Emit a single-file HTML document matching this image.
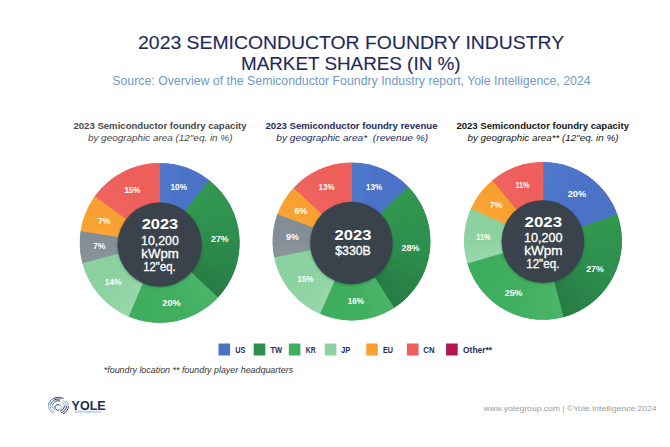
<!DOCTYPE html>
<html lang="en"><head><meta charset="utf-8"><title>2023 Semiconductor Foundry Industry Market Shares</title>
<style>html,body{margin:0;padding:0;background:#fff}body{width:670px;height:447px;overflow:hidden}svg{display:block}</style>
</head><body>
<svg width="670" height="447" viewBox="0 0 670 447" font-family="'Liberation Sans', sans-serif">
<defs><filter id="sh" x="-20%" y="-20%" width="140%" height="140%"><feGaussianBlur stdDeviation="0.9"/></filter></defs>
<rect width="670" height="447" fill="#fff"/>
<text x="138.1" y="49.3" font-size="18" fill="#1f2a5a" font-weight="normal" font-style="normal" textLength="426.1" lengthAdjust="spacingAndGlyphs" stroke="#1f2a5a" stroke-width="0.12">2023 SEMICONDUCTOR FOUNDRY INDUSTRY</text>
<text x="241" y="69.8" font-size="18" fill="#1f2a5a" font-weight="normal" font-style="normal" textLength="219.5" lengthAdjust="spacingAndGlyphs" stroke="#1f2a5a" stroke-width="0.12">MARKET SHARES (IN %)</text>
<text x="112.3" y="85" font-size="12" fill="#7099c5" font-weight="normal" font-style="normal" textLength="478.3" lengthAdjust="spacingAndGlyphs" >Source: Overview of the Semiconductor Foundry Industry report, Yole Intelligence, 2024</text>
<text x="73.4" y="129.4" font-size="9.4" fill="#484848" font-weight="bold" font-style="normal" textLength="173.2" lengthAdjust="spacingAndGlyphs" >2023 Semiconductor foundry capacity</text>
<text x="87.9" y="140.6" font-size="9.4" fill="#484848" font-weight="normal" font-style="italic" textLength="144.6" lengthAdjust="spacingAndGlyphs" >by geographic area (12"eq. in %)</text>
<text x="265.5" y="129.4" font-size="9.4" fill="#1f2a5a" font-weight="bold" font-style="normal" textLength="172.0" lengthAdjust="spacingAndGlyphs" >2023 Semiconductor foundry revenue</text>
<text x="276.3" y="140.6" font-size="9.4" fill="#1f2a5a" font-weight="normal" font-style="italic" textLength="151.9" lengthAdjust="spacingAndGlyphs" xml:space="preserve">by geographic area*  (revenue %)</text>
<text x="456.4" y="129.4" font-size="9.4" fill="#151515" font-weight="bold" font-style="normal" textLength="172.6" lengthAdjust="spacingAndGlyphs" >2023 Semiconductor foundry capacity</text>
<text x="467.5" y="140.6" font-size="9.4" fill="#151515" font-weight="normal" font-style="italic" textLength="151.0" lengthAdjust="spacingAndGlyphs" >by geographic area** (12"eq. in %)</text>
<path d="M159.70,242.90L159.70,163.20A79.70,79.70 0 0 1 209.21,180.44Z" fill="#4a73c8" stroke="#4a73c8" stroke-width="0.4"/>
<path d="M159.70,242.90L159.70,163.20A79.70,79.70 0 0 1 166.46,163.49Z" fill="#5078ca"/>
<path d="M159.70,242.90L165.63,163.42A79.70,79.70 0 0 1 172.35,164.21Z" fill="#4f77c9"/>
<path d="M159.70,242.90L171.53,164.08A79.70,79.70 0 0 1 178.17,165.37Z" fill="#4d76c9"/>
<path d="M159.70,242.90L177.36,165.18A79.70,79.70 0 0 1 183.89,166.96Z" fill="#4c74c8"/>
<path d="M159.70,242.90L183.09,166.71A79.70,79.70 0 0 1 189.47,168.97Z" fill="#4a73c8"/>
<path d="M159.70,242.90L188.69,168.66A79.70,79.70 0 0 1 194.89,171.39Z" fill="#4a73c8"/>
<path d="M159.70,242.90L194.14,171.02A79.70,79.70 0 0 1 200.11,174.20Z" fill="#4a73c8"/>
<path d="M159.70,242.90L199.39,173.79A79.70,79.70 0 0 1 205.11,177.40Z" fill="#4a72c7"/>
<path d="M159.70,242.90L204.42,176.93A79.70,79.70 0 0 1 209.21,180.44Z" fill="#4a72c7"/>
<path d="M159.70,242.90L209.21,180.44A79.70,79.70 0 0 1 217.80,297.46Z" fill="#2d8e4e" stroke="#2d8e4e" stroke-width="0.4"/>
<path d="M159.70,242.90L209.21,180.44A79.70,79.70 0 0 1 214.18,184.73Z" fill="#32974f"/>
<path d="M159.70,242.90L213.57,184.16A79.70,79.70 0 0 1 218.22,188.79Z" fill="#31964f"/>
<path d="M159.70,242.90L217.65,188.18A79.70,79.70 0 0 1 221.96,193.14Z" fill="#31954f"/>
<path d="M159.70,242.90L221.43,192.49A79.70,79.70 0 0 1 225.37,197.74Z" fill="#30944f"/>
<path d="M159.70,242.90L224.90,197.06A79.70,79.70 0 0 1 228.45,202.58Z" fill="#30934f"/>
<path d="M159.70,242.90L228.02,201.86A79.70,79.70 0 0 1 231.17,207.63Z" fill="#30934f"/>
<path d="M159.70,242.90L230.80,206.88A79.70,79.70 0 0 1 233.52,212.85Z" fill="#2f924e"/>
<path d="M159.70,242.90L233.20,212.08A79.70,79.70 0 0 1 235.49,218.24Z" fill="#2f914e"/>
<path d="M159.70,242.90L235.23,217.44A79.70,79.70 0 0 1 237.06,223.75Z" fill="#2e904e"/>
<path d="M159.70,242.90L236.86,222.94A79.70,79.70 0 0 1 238.24,229.36Z" fill="#2e904e"/>
<path d="M159.70,242.90L238.10,228.54A79.70,79.70 0 0 1 239.01,235.04Z" fill="#2d8f4e"/>
<path d="M159.70,242.90L238.92,234.21A79.70,79.70 0 0 1 239.37,240.76Z" fill="#2d8e4e"/>
<path d="M159.70,242.90L239.34,239.93A79.70,79.70 0 0 1 239.32,246.49Z" fill="#2d8c4d"/>
<path d="M159.70,242.90L239.35,245.66A79.70,79.70 0 0 1 238.85,252.20Z" fill="#2c8b4c"/>
<path d="M159.70,242.90L238.95,251.38A79.70,79.70 0 0 1 237.98,257.87Z" fill="#2c894b"/>
<path d="M159.70,242.90L238.13,257.05A79.70,79.70 0 0 1 236.70,263.46Z" fill="#2b884b"/>
<path d="M159.70,242.90L236.91,262.65A79.70,79.70 0 0 1 235.03,268.94Z" fill="#2b864a"/>
<path d="M159.70,242.90L235.29,268.15A79.70,79.70 0 0 1 232.96,274.29Z" fill="#2a8549"/>
<path d="M159.70,242.90L233.28,273.52A79.70,79.70 0 0 1 230.51,279.47Z" fill="#2a8348"/>
<path d="M159.70,242.90L230.89,278.73A79.70,79.70 0 0 1 227.70,284.47Z" fill="#2a8147"/>
<path d="M159.70,242.90L228.13,283.75A79.70,79.70 0 0 1 224.54,289.25Z" fill="#298046"/>
<path d="M159.70,242.90L225.02,288.56A79.70,79.70 0 0 1 221.04,293.79Z" fill="#297e45"/>
<path d="M159.70,242.90L221.57,293.14A79.70,79.70 0 0 1 217.80,297.46Z" fill="#287d44"/>
<path d="M159.70,242.90L217.80,297.46A79.70,79.70 0 0 1 128.56,316.26Z" fill="#3faf5f" stroke="#3faf5f" stroke-width="0.4"/>
<path d="M159.70,242.90L217.80,297.46A79.70,79.70 0 0 1 213.13,302.04Z" fill="#4ab468"/>
<path d="M159.70,242.90L213.74,301.48A79.70,79.70 0 0 1 208.76,305.71Z" fill="#49b367"/>
<path d="M159.70,242.90L209.41,305.20A79.70,79.70 0 0 1 204.13,309.07Z" fill="#47b366"/>
<path d="M159.70,242.90L204.82,308.60A79.70,79.70 0 0 1 199.28,312.08Z" fill="#46b265"/>
<path d="M159.70,242.90L200.00,311.66A79.70,79.70 0 0 1 194.23,314.73Z" fill="#45b164"/>
<path d="M159.70,242.90L194.98,314.37A79.70,79.70 0 0 1 188.99,317.02Z" fill="#43b163"/>
<path d="M159.70,242.90L189.77,316.71A79.70,79.70 0 0 1 183.61,318.93Z" fill="#42b061"/>
<path d="M159.70,242.90L184.41,318.67A79.70,79.70 0 0 1 178.11,320.45Z" fill="#40b060"/>
<path d="M159.70,242.90L178.92,320.25A79.70,79.70 0 0 1 172.51,321.56Z" fill="#3faf5f"/>
<path d="M159.70,242.90L173.33,321.43A79.70,79.70 0 0 1 166.84,322.28Z" fill="#3faf5f"/>
<path d="M159.70,242.90L167.67,322.20A79.70,79.70 0 0 1 161.14,322.59Z" fill="#3faf5f"/>
<path d="M159.70,242.90L161.97,322.57A79.70,79.70 0 0 1 155.43,322.49Z" fill="#3fae5f"/>
<path d="M159.70,242.90L156.26,322.53A79.70,79.70 0 0 1 149.74,321.98Z" fill="#3fae5f"/>
<path d="M159.70,242.90L150.57,322.08A79.70,79.70 0 0 1 144.11,321.06Z" fill="#3eae5e"/>
<path d="M159.70,242.90L144.93,321.22A79.70,79.70 0 0 1 138.55,319.74Z" fill="#3eae5e"/>
<path d="M159.70,242.90L139.36,319.96A79.70,79.70 0 0 1 133.10,318.03Z" fill="#3ead5e"/>
<path d="M159.70,242.90L133.89,318.31A79.70,79.70 0 0 1 128.56,316.26Z" fill="#3ead5e"/>
<path d="M159.70,242.90L128.56,316.26A79.70,79.70 0 0 1 82.50,262.72Z" fill="#8dd3a1" stroke="#8dd3a1" stroke-width="0.4"/>
<path d="M159.70,242.90L128.56,316.26A79.70,79.70 0 0 1 122.72,313.50Z" fill="#97d7a9"/>
<path d="M159.70,242.90L123.46,313.88A79.70,79.70 0 0 1 117.83,310.72Z" fill="#95d6a8"/>
<path d="M159.70,242.90L118.54,311.15A79.70,79.70 0 0 1 113.15,307.59Z" fill="#94d5a7"/>
<path d="M159.70,242.90L113.83,308.08A79.70,79.70 0 0 1 108.70,304.15Z" fill="#92d5a5"/>
<path d="M159.70,242.90L109.34,304.68A79.70,79.70 0 0 1 104.51,300.39Z" fill="#90d4a4"/>
<path d="M159.70,242.90L105.11,300.97A79.70,79.70 0 0 1 100.59,296.36Z" fill="#8fd4a2"/>
<path d="M159.70,242.90L101.15,296.97A79.70,79.70 0 0 1 96.96,292.05Z" fill="#8dd3a1"/>
<path d="M159.70,242.90L97.48,292.71A79.70,79.70 0 0 1 93.65,287.50Z" fill="#8dd3a1"/>
<path d="M159.70,242.90L94.12,288.19A79.70,79.70 0 0 1 90.67,282.73Z" fill="#8cd2a0"/>
<path d="M159.70,242.90L91.09,283.45A79.70,79.70 0 0 1 88.03,277.76Z" fill="#8cd2a0"/>
<path d="M159.70,242.90L88.40,278.51A79.70,79.70 0 0 1 85.75,272.62Z" fill="#8cd1a0"/>
<path d="M159.70,242.90L86.06,273.39A79.70,79.70 0 0 1 83.83,267.33Z" fill="#8bd19f"/>
<path d="M159.70,242.90L84.09,268.12A79.70,79.70 0 0 1 82.50,262.72Z" fill="#8bd09f"/>
<path d="M159.70,242.90L82.50,262.72A79.70,79.70 0 0 1 80.90,230.98Z" fill="#848e96" stroke="#848e96" stroke-width="0.4"/>
<path d="M159.70,242.90L82.50,262.72A79.70,79.70 0 0 1 81.20,256.69Z" fill="#889299"/>
<path d="M159.70,242.90L81.35,257.52A79.70,79.70 0 0 1 80.46,251.42Z" fill="#869098"/>
<path d="M159.70,242.90L80.55,252.24A79.70,79.70 0 0 1 80.06,246.10Z" fill="#858f97"/>
<path d="M159.70,242.90L80.10,246.93A79.70,79.70 0 0 1 80.03,240.77Z" fill="#848e96"/>
<path d="M159.70,242.90L80.01,241.60A79.70,79.70 0 0 1 80.35,235.45Z" fill="#848e96"/>
<path d="M159.70,242.90L80.28,236.28A79.70,79.70 0 0 1 80.90,230.98Z" fill="#838d95"/>
<path d="M159.70,242.90L80.90,230.98A79.70,79.70 0 0 1 95.06,196.28Z" fill="#f8a131" stroke="#f8a131" stroke-width="0.4"/>
<path d="M159.70,242.90L80.90,230.98A79.70,79.70 0 0 1 82.28,223.98Z" fill="#f8a436"/>
<path d="M159.70,242.90L82.08,224.79A79.70,79.70 0 0 1 84.02,217.92Z" fill="#f8a234"/>
<path d="M159.70,242.90L83.76,218.71A79.70,79.70 0 0 1 86.23,212.02Z" fill="#f8a232"/>
<path d="M159.70,242.90L85.91,212.79A79.70,79.70 0 0 1 88.90,206.30Z" fill="#f8a131"/>
<path d="M159.70,242.90L88.52,207.05A79.70,79.70 0 0 1 92.01,200.82Z" fill="#f8a031"/>
<path d="M159.70,242.90L91.58,201.53A79.70,79.70 0 0 1 95.06,196.28Z" fill="#f7a031"/>
<path d="M159.70,242.90L95.06,196.28A79.70,79.70 0 0 1 159.70,163.20Z" fill="#ee5f5b" stroke="#ee5f5b" stroke-width="0.4"/>
<path d="M159.70,242.90L95.06,196.28A79.70,79.70 0 0 1 99.16,191.07Z" fill="#ef6460"/>
<path d="M159.70,242.90L98.62,191.70A79.70,79.70 0 0 1 103.09,186.80Z" fill="#ef635f"/>
<path d="M159.70,242.90L102.50,187.40A79.70,79.70 0 0 1 107.32,182.83Z" fill="#ef625e"/>
<path d="M159.70,242.90L106.69,183.39A79.70,79.70 0 0 1 111.82,179.18Z" fill="#ee615d"/>
<path d="M159.70,242.90L111.16,179.69A79.70,79.70 0 0 1 116.58,175.87Z" fill="#ee615d"/>
<path d="M159.70,242.90L115.88,176.33A79.70,79.70 0 0 1 121.57,172.91Z" fill="#ee605c"/>
<path d="M159.70,242.90L120.84,173.32A79.70,79.70 0 0 1 126.76,170.33Z" fill="#ee5f5b"/>
<path d="M159.70,242.90L126.00,170.68A79.70,79.70 0 0 1 132.12,168.12Z" fill="#ee5f5b"/>
<path d="M159.70,242.90L131.34,168.42A79.70,79.70 0 0 1 137.63,166.32Z" fill="#ee5f5b"/>
<path d="M159.70,242.90L136.83,166.55A79.70,79.70 0 0 1 143.26,164.92Z" fill="#ee5f5b"/>
<path d="M159.70,242.90L142.44,165.09A79.70,79.70 0 0 1 148.97,163.93Z" fill="#ed5f5b"/>
<path d="M159.70,242.90L148.14,164.04A79.70,79.70 0 0 1 154.74,163.35Z" fill="#ed5f5b"/>
<path d="M159.70,242.90L153.91,163.41A79.70,79.70 0 0 1 159.70,163.20Z" fill="#ed5f5b"/>
<circle cx="159.6" cy="245.29999999999998" r="42" fill="#10281a" opacity="0.45" filter="url(#sh)"/>
<circle cx="159.6" cy="244.6" r="42" fill="#3a424b"/>
<path d="M351.50,241.50L351.50,162.80A78.70,78.70 0 0 1 408.30,187.03Z" fill="#4a73c8" stroke="#4a73c8" stroke-width="0.4"/>
<path d="M351.50,241.50L351.50,162.80A78.70,78.70 0 0 1 358.09,163.08Z" fill="#5078ca"/>
<path d="M351.50,241.50L357.26,163.01A78.70,78.70 0 0 1 363.81,163.77Z" fill="#4f77c9"/>
<path d="M351.50,241.50L363.00,163.64A78.70,78.70 0 0 1 369.47,164.88Z" fill="#4e76c9"/>
<path d="M351.50,241.50L368.67,164.70A78.70,78.70 0 0 1 375.03,166.40Z" fill="#4d75c9"/>
<path d="M351.50,241.50L374.25,166.16A78.70,78.70 0 0 1 380.47,168.33Z" fill="#4b74c8"/>
<path d="M351.50,241.50L379.70,168.03A78.70,78.70 0 0 1 385.75,170.64Z" fill="#4a73c8"/>
<path d="M351.50,241.50L385.01,170.29A78.70,78.70 0 0 1 390.85,173.34Z" fill="#4a73c8"/>
<path d="M351.50,241.50L390.13,172.94A78.70,78.70 0 0 1 395.74,176.41Z" fill="#4a73c8"/>
<path d="M351.50,241.50L395.05,175.95A78.70,78.70 0 0 1 400.38,179.82Z" fill="#4a72c7"/>
<path d="M351.50,241.50L399.74,179.31A78.70,78.70 0 0 1 404.77,183.57Z" fill="#4a72c7"/>
<path d="M351.50,241.50L404.16,183.01A78.70,78.70 0 0 1 408.30,187.03Z" fill="#4a72c7"/>
<path d="M351.50,241.50L408.30,187.03A78.70,78.70 0 0 1 393.90,307.80Z" fill="#2d8e4e" stroke="#2d8e4e" stroke-width="0.4"/>
<path d="M351.50,241.50L408.30,187.03A78.70,78.70 0 0 1 412.53,191.81Z" fill="#32974f"/>
<path d="M351.50,241.50L412.01,191.17A78.70,78.70 0 0 1 415.89,196.24Z" fill="#31964f"/>
<path d="M351.50,241.50L415.41,195.57A78.70,78.70 0 0 1 418.92,200.90Z" fill="#31954f"/>
<path d="M351.50,241.50L418.49,200.20A78.70,78.70 0 0 1 421.62,205.76Z" fill="#31944f"/>
<path d="M351.50,241.50L421.24,205.03A78.70,78.70 0 0 1 423.97,210.80Z" fill="#30944f"/>
<path d="M351.50,241.50L423.64,210.04A78.70,78.70 0 0 1 425.95,215.99Z" fill="#30934f"/>
<path d="M351.50,241.50L425.68,215.21A78.70,78.70 0 0 1 427.57,221.31Z" fill="#2f924e"/>
<path d="M351.50,241.50L427.35,220.52A78.70,78.70 0 0 1 428.80,226.73Z" fill="#2f924e"/>
<path d="M351.50,241.50L428.64,225.92A78.70,78.70 0 0 1 429.65,232.23Z" fill="#2f914e"/>
<path d="M351.50,241.50L429.55,231.41A78.70,78.70 0 0 1 430.11,237.77Z" fill="#2e904e"/>
<path d="M351.50,241.50L430.07,236.94A78.70,78.70 0 0 1 430.18,243.32Z" fill="#2e8f4e"/>
<path d="M351.50,241.50L430.19,242.50A78.70,78.70 0 0 1 429.85,248.87Z" fill="#2d8f4e"/>
<path d="M351.50,241.50L429.93,248.05A78.70,78.70 0 0 1 429.14,254.39Z" fill="#2d8e4e"/>
<path d="M351.50,241.50L429.27,253.57A78.70,78.70 0 0 1 428.03,259.83Z" fill="#2d8d4d"/>
<path d="M351.50,241.50L428.22,259.03A78.70,78.70 0 0 1 426.55,265.19Z" fill="#2c8b4c"/>
<path d="M351.50,241.50L426.79,264.40A78.70,78.70 0 0 1 424.69,270.43Z" fill="#2c8a4c"/>
<path d="M351.50,241.50L424.99,269.66A78.70,78.70 0 0 1 422.46,275.52Z" fill="#2b884b"/>
<path d="M351.50,241.50L422.82,274.78A78.70,78.70 0 0 1 419.89,280.45Z" fill="#2b874a"/>
<path d="M351.50,241.50L420.29,279.73A78.70,78.70 0 0 1 416.97,285.18Z" fill="#2b8549"/>
<path d="M351.50,241.50L417.42,284.49A78.70,78.70 0 0 1 413.72,289.69Z" fill="#2a8448"/>
<path d="M351.50,241.50L414.22,289.04A78.70,78.70 0 0 1 410.16,293.96Z" fill="#2a8248"/>
<path d="M351.50,241.50L410.71,293.35A78.70,78.70 0 0 1 406.31,297.97Z" fill="#298147"/>
<path d="M351.50,241.50L406.90,297.40A78.70,78.70 0 0 1 402.19,301.70Z" fill="#298046"/>
<path d="M351.50,241.50L402.82,301.17A78.70,78.70 0 0 1 397.81,305.13Z" fill="#297e45"/>
<path d="M351.50,241.50L398.48,304.64A78.70,78.70 0 0 1 393.90,307.80Z" fill="#287d44"/>
<path d="M351.50,241.50L393.90,307.80A78.70,78.70 0 0 1 319.99,313.62Z" fill="#3faf5f" stroke="#3faf5f" stroke-width="0.4"/>
<path d="M351.50,241.50L393.90,307.80A78.70,78.70 0 0 1 388.43,311.00Z" fill="#4ab468"/>
<path d="M351.50,241.50L389.16,310.61A78.70,78.70 0 0 1 383.47,313.41Z" fill="#48b367"/>
<path d="M351.50,241.50L384.23,313.07A78.70,78.70 0 0 1 378.36,315.47Z" fill="#47b265"/>
<path d="M351.50,241.50L379.13,315.19A78.70,78.70 0 0 1 373.12,317.17Z" fill="#45b264"/>
<path d="M351.50,241.50L373.91,316.94A78.70,78.70 0 0 1 367.77,318.50Z" fill="#43b163"/>
<path d="M351.50,241.50L368.57,318.33A78.70,78.70 0 0 1 362.34,319.45Z" fill="#42b061"/>
<path d="M351.50,241.50L363.15,319.33A78.70,78.70 0 0 1 356.85,320.02Z" fill="#40af60"/>
<path d="M351.50,241.50L357.67,319.96A78.70,78.70 0 0 1 351.34,320.20Z" fill="#3faf5f"/>
<path d="M351.50,241.50L352.17,320.20A78.70,78.70 0 0 1 345.83,320.00Z" fill="#3faf5f"/>
<path d="M351.50,241.50L346.66,320.05A78.70,78.70 0 0 1 340.35,319.41Z" fill="#3fae5f"/>
<path d="M351.50,241.50L341.17,319.52A78.70,78.70 0 0 1 334.93,318.44Z" fill="#3eae5e"/>
<path d="M351.50,241.50L335.73,318.60A78.70,78.70 0 0 1 329.58,317.09Z" fill="#3eae5e"/>
<path d="M351.50,241.50L330.37,317.31A78.70,78.70 0 0 1 324.34,315.37Z" fill="#3ead5e"/>
<path d="M351.50,241.50L325.12,315.65A78.70,78.70 0 0 1 319.99,313.62Z" fill="#3ead5e"/>
<path d="M351.50,241.50L319.99,313.62A78.70,78.70 0 0 1 274.35,257.06Z" fill="#8dd3a1" stroke="#8dd3a1" stroke-width="0.4"/>
<path d="M351.50,241.50L319.99,313.62A78.70,78.70 0 0 1 314.03,310.71Z" fill="#97d7a9"/>
<path d="M351.50,241.50L314.76,311.10A78.70,78.70 0 0 1 309.03,307.76Z" fill="#95d6a8"/>
<path d="M351.50,241.50L309.72,308.20A78.70,78.70 0 0 1 304.26,304.44Z" fill="#94d5a7"/>
<path d="M351.50,241.50L304.92,304.93A78.70,78.70 0 0 1 299.74,300.78Z" fill="#92d5a5"/>
<path d="M351.50,241.50L300.36,301.32A78.70,78.70 0 0 1 295.51,296.80Z" fill="#90d4a4"/>
<path d="M351.50,241.50L296.09,297.39A78.70,78.70 0 0 1 291.58,292.52Z" fill="#8fd4a2"/>
<path d="M351.50,241.50L292.12,293.15A78.70,78.70 0 0 1 287.98,287.96Z" fill="#8dd3a1"/>
<path d="M351.50,241.50L288.47,288.63A78.70,78.70 0 0 1 284.73,283.15Z" fill="#8dd3a1"/>
<path d="M351.50,241.50L285.16,283.85A78.70,78.70 0 0 1 281.83,278.11Z" fill="#8cd2a0"/>
<path d="M351.50,241.50L282.22,278.84A78.70,78.70 0 0 1 279.32,272.87Z" fill="#8cd2a0"/>
<path d="M351.50,241.50L279.66,273.63A78.70,78.70 0 0 1 277.21,267.46Z" fill="#8cd1a0"/>
<path d="M351.50,241.50L277.48,268.24A78.70,78.70 0 0 1 275.49,261.91Z" fill="#8bd19f"/>
<path d="M351.50,241.50L275.71,262.70A78.70,78.70 0 0 1 274.35,257.06Z" fill="#8bd09f"/>
<path d="M351.50,241.50L274.35,257.06A78.70,78.70 0 0 1 277.74,214.07Z" fill="#848e96" stroke="#848e96" stroke-width="0.4"/>
<path d="M351.50,241.50L274.35,257.06A78.70,78.70 0 0 1 273.27,250.08Z" fill="#889299"/>
<path d="M351.50,241.50L273.36,250.90A78.70,78.70 0 0 1 272.84,243.85Z" fill="#879198"/>
<path d="M351.50,241.50L272.86,244.68A78.70,78.70 0 0 1 272.90,237.62Z" fill="#858f97"/>
<path d="M351.50,241.50L272.86,238.44A78.70,78.70 0 0 1 273.45,231.40Z" fill="#848e96"/>
<path d="M351.50,241.50L273.35,232.22A78.70,78.70 0 0 1 274.50,225.25Z" fill="#848e96"/>
<path d="M351.50,241.50L274.33,226.06A78.70,78.70 0 0 1 276.02,219.20Z" fill="#838d95"/>
<path d="M351.50,241.50L275.79,220.00A78.70,78.70 0 0 1 277.74,214.07Z" fill="#838d95"/>
<path d="M351.50,241.50L277.74,214.07A78.70,78.70 0 0 1 293.94,187.83Z" fill="#f8a131" stroke="#f8a131" stroke-width="0.4"/>
<path d="M351.50,241.50L277.74,214.07A78.70,78.70 0 0 1 280.04,208.53Z" fill="#f8a436"/>
<path d="M351.50,241.50L279.70,209.28A78.70,78.70 0 0 1 282.36,203.91Z" fill="#f8a234"/>
<path d="M351.50,241.50L281.97,204.63A78.70,78.70 0 0 1 284.98,199.45Z" fill="#f8a232"/>
<path d="M351.50,241.50L284.54,200.15A78.70,78.70 0 0 1 287.88,195.17Z" fill="#f8a131"/>
<path d="M351.50,241.50L287.40,195.84A78.70,78.70 0 0 1 291.07,191.09Z" fill="#f8a031"/>
<path d="M351.50,241.50L290.54,191.72A78.70,78.70 0 0 1 293.94,187.83Z" fill="#f7a031"/>
<path d="M351.50,241.50L293.94,187.83A78.70,78.70 0 0 1 351.50,162.80Z" fill="#ee5f5b" stroke="#ee5f5b" stroke-width="0.4"/>
<path d="M351.50,241.50L293.94,187.83A78.70,78.70 0 0 1 298.71,183.13Z" fill="#ef6460"/>
<path d="M351.50,241.50L298.10,183.69A78.70,78.70 0 0 1 303.21,179.36Z" fill="#ef635f"/>
<path d="M351.50,241.50L302.56,179.87A78.70,78.70 0 0 1 307.97,175.94Z" fill="#ef625e"/>
<path d="M351.50,241.50L307.28,176.39A78.70,78.70 0 0 1 312.97,172.87Z" fill="#ee615d"/>
<path d="M351.50,241.50L312.26,173.28A78.70,78.70 0 0 1 318.19,170.19Z" fill="#ee605c"/>
<path d="M351.50,241.50L317.45,170.55A78.70,78.70 0 0 1 323.60,167.91Z" fill="#ee5f5b"/>
<path d="M351.50,241.50L322.83,168.21A78.70,78.70 0 0 1 329.16,166.04Z" fill="#ee5f5b"/>
<path d="M351.50,241.50L328.37,166.28A78.70,78.70 0 0 1 334.84,164.58Z" fill="#ee5f5b"/>
<path d="M351.50,241.50L334.04,164.76A78.70,78.70 0 0 1 340.62,163.56Z" fill="#ed5f5b"/>
<path d="M351.50,241.50L339.81,163.67A78.70,78.70 0 0 1 346.46,162.96Z" fill="#ed5f5b"/>
<path d="M351.50,241.50L345.64,163.02A78.70,78.70 0 0 1 351.50,162.80Z" fill="#ed5f5b"/>
<circle cx="351.4" cy="243.7" r="41.2" fill="#10281a" opacity="0.45" filter="url(#sh)"/>
<circle cx="351.4" cy="243" r="41.2" fill="#3a424b"/>
<path d="M543.00,240.90L543.00,162.20A78.70,78.70 0 0 1 617.14,214.50Z" fill="#4a73c8" stroke="#4a73c8" stroke-width="0.4"/>
<path d="M543.00,240.90L543.00,162.20A78.70,78.70 0 0 1 549.50,162.47Z" fill="#5179ca"/>
<path d="M543.00,240.90L548.68,162.41A78.70,78.70 0 0 1 555.15,163.14Z" fill="#5078ca"/>
<path d="M543.00,240.90L554.34,163.02A78.70,78.70 0 0 1 560.74,164.22Z" fill="#4f77c9"/>
<path d="M543.00,240.90L559.93,164.04A78.70,78.70 0 0 1 566.23,165.71Z" fill="#4e77c9"/>
<path d="M543.00,240.90L565.44,165.47A78.70,78.70 0 0 1 571.60,167.58Z" fill="#4d76c9"/>
<path d="M543.00,240.90L570.83,167.28A78.70,78.70 0 0 1 576.82,169.84Z" fill="#4c75c9"/>
<path d="M543.00,240.90L576.07,169.49A78.70,78.70 0 0 1 581.86,172.46Z" fill="#4c74c8"/>
<path d="M543.00,240.90L581.14,172.06A78.70,78.70 0 0 1 586.70,175.45Z" fill="#4b74c8"/>
<path d="M543.00,240.90L586.01,174.99A78.70,78.70 0 0 1 591.31,178.77Z" fill="#4a73c8"/>
<path d="M543.00,240.90L590.66,178.27A78.70,78.70 0 0 1 595.67,182.43Z" fill="#4a73c8"/>
<path d="M543.00,240.90L595.06,181.88A78.70,78.70 0 0 1 599.76,186.38Z" fill="#4a73c8"/>
<path d="M543.00,240.90L599.18,185.79A78.70,78.70 0 0 1 603.55,190.62Z" fill="#4a73c8"/>
<path d="M543.00,240.90L603.02,189.99A78.70,78.70 0 0 1 607.02,195.13Z" fill="#4a73c8"/>
<path d="M543.00,240.90L606.54,194.46A78.70,78.70 0 0 1 610.16,199.87Z" fill="#4a72c7"/>
<path d="M543.00,240.90L609.72,199.17A78.70,78.70 0 0 1 612.95,204.83Z" fill="#4a72c7"/>
<path d="M543.00,240.90L612.56,204.10A78.70,78.70 0 0 1 615.37,209.97Z" fill="#4a72c7"/>
<path d="M543.00,240.90L615.04,209.21A78.70,78.70 0 0 1 617.14,214.50Z" fill="#4a72c7"/>
<path d="M543.00,240.90L617.14,214.50A78.70,78.70 0 0 1 563.37,316.92Z" fill="#2d8e4e" stroke="#2d8e4e" stroke-width="0.4"/>
<path d="M543.00,240.90L617.14,214.50A78.70,78.70 0 0 1 619.06,220.68Z" fill="#32974f"/>
<path d="M543.00,240.90L618.84,219.89A78.70,78.70 0 0 1 620.31,226.19Z" fill="#31964f"/>
<path d="M543.00,240.90L620.15,225.38A78.70,78.70 0 0 1 621.17,231.77Z" fill="#31954f"/>
<path d="M543.00,240.90L621.07,230.95A78.70,78.70 0 0 1 621.62,237.40Z" fill="#30944f"/>
<path d="M543.00,240.90L621.58,236.58A78.70,78.70 0 0 1 621.67,243.05Z" fill="#30934f"/>
<path d="M543.00,240.90L621.69,242.23A78.70,78.70 0 0 1 621.31,248.69Z" fill="#30934f"/>
<path d="M543.00,240.90L621.39,247.87A78.70,78.70 0 0 1 620.55,254.28Z" fill="#2f924e"/>
<path d="M543.00,240.90L620.69,253.47A78.70,78.70 0 0 1 619.39,259.81Z" fill="#2f914e"/>
<path d="M543.00,240.90L619.59,259.01A78.70,78.70 0 0 1 617.84,265.24Z" fill="#2e904e"/>
<path d="M543.00,240.90L618.09,264.46A78.70,78.70 0 0 1 615.90,270.55Z" fill="#2e904e"/>
<path d="M543.00,240.90L616.21,269.78A78.70,78.70 0 0 1 613.59,275.70Z" fill="#2d8f4e"/>
<path d="M543.00,240.90L613.95,274.96A78.70,78.70 0 0 1 610.91,280.67Z" fill="#2d8e4e"/>
<path d="M543.00,240.90L611.32,279.96A78.70,78.70 0 0 1 607.88,285.44Z" fill="#2d8c4d"/>
<path d="M543.00,240.90L608.35,284.76A78.70,78.70 0 0 1 604.52,289.98Z" fill="#2c8b4c"/>
<path d="M543.00,240.90L605.03,289.33A78.70,78.70 0 0 1 600.84,294.27Z" fill="#2c894b"/>
<path d="M543.00,240.90L601.40,293.66A78.70,78.70 0 0 1 596.87,298.28Z" fill="#2b884b"/>
<path d="M543.00,240.90L597.46,297.71A78.70,78.70 0 0 1 592.61,301.99Z" fill="#2b864a"/>
<path d="M543.00,240.90L593.25,301.47A78.70,78.70 0 0 1 588.10,305.39Z" fill="#2a8549"/>
<path d="M543.00,240.90L588.77,304.92A78.70,78.70 0 0 1 583.36,308.46Z" fill="#2a8348"/>
<path d="M543.00,240.90L584.06,308.04A78.70,78.70 0 0 1 578.41,311.18Z" fill="#2a8147"/>
<path d="M543.00,240.90L579.14,310.81A78.70,78.70 0 0 1 573.28,313.54Z" fill="#298046"/>
<path d="M543.00,240.90L574.04,313.22A78.70,78.70 0 0 1 567.99,315.53Z" fill="#297e45"/>
<path d="M543.00,240.90L568.77,315.26A78.70,78.70 0 0 1 563.37,316.92Z" fill="#287d44"/>
<path d="M543.00,240.90L563.37,316.92A78.70,78.70 0 0 1 467.54,263.25Z" fill="#3faf5f" stroke="#3faf5f" stroke-width="0.4"/>
<path d="M543.00,240.90L563.37,316.92A78.70,78.70 0 0 1 557.18,318.31Z" fill="#4ab469"/>
<path d="M543.00,240.90L557.99,318.16A78.70,78.70 0 0 1 551.71,319.12Z" fill="#49b368"/>
<path d="M543.00,240.90L552.53,319.02A78.70,78.70 0 0 1 546.20,319.53Z" fill="#48b367"/>
<path d="M543.00,240.90L547.03,319.50A78.70,78.70 0 0 1 540.68,319.57Z" fill="#47b266"/>
<path d="M543.00,240.90L541.50,319.59A78.70,78.70 0 0 1 535.16,319.21Z" fill="#46b265"/>
<path d="M543.00,240.90L535.99,319.29A78.70,78.70 0 0 1 529.69,318.47Z" fill="#45b264"/>
<path d="M543.00,240.90L530.50,318.60A78.70,78.70 0 0 1 524.28,317.34Z" fill="#44b163"/>
<path d="M543.00,240.90L525.08,317.53A78.70,78.70 0 0 1 518.97,315.84Z" fill="#43b162"/>
<path d="M543.00,240.90L519.75,316.09A78.70,78.70 0 0 1 513.77,313.97Z" fill="#42b061"/>
<path d="M543.00,240.90L514.53,314.27A78.70,78.70 0 0 1 508.71,311.74Z" fill="#41b060"/>
<path d="M543.00,240.90L509.46,312.09A78.70,78.70 0 0 1 503.83,309.16Z" fill="#40af5f"/>
<path d="M543.00,240.90L504.55,309.57A78.70,78.70 0 0 1 499.14,306.24Z" fill="#3faf5f"/>
<path d="M543.00,240.90L499.82,306.70A78.70,78.70 0 0 1 494.66,303.00Z" fill="#3faf5f"/>
<path d="M543.00,240.90L495.31,303.51A78.70,78.70 0 0 1 490.42,299.46Z" fill="#3faf5f"/>
<path d="M543.00,240.90L491.04,300.01A78.70,78.70 0 0 1 486.44,295.63Z" fill="#3fae5f"/>
<path d="M543.00,240.90L487.02,296.22A78.70,78.70 0 0 1 482.74,291.53Z" fill="#3fae5f"/>
<path d="M543.00,240.90L483.28,292.15A78.70,78.70 0 0 1 479.34,287.17Z" fill="#3eae5e"/>
<path d="M543.00,240.90L479.83,287.84A78.70,78.70 0 0 1 476.25,282.59Z" fill="#3eae5e"/>
<path d="M543.00,240.90L476.69,283.29A78.70,78.70 0 0 1 473.49,277.81Z" fill="#3eae5e"/>
<path d="M543.00,240.90L473.88,278.53A78.70,78.70 0 0 1 471.07,272.84Z" fill="#3ead5e"/>
<path d="M543.00,240.90L471.41,273.59A78.70,78.70 0 0 1 469.01,267.72Z" fill="#3ead5e"/>
<path d="M543.00,240.90L469.29,268.49A78.70,78.70 0 0 1 467.54,263.25Z" fill="#3ead5e"/>
<path d="M543.00,240.90L467.54,263.25A78.70,78.70 0 0 1 471.27,208.51Z" fill="#8dd3a1" stroke="#8dd3a1" stroke-width="0.4"/>
<path d="M543.00,240.90L467.54,263.25A78.70,78.70 0 0 1 465.97,257.02Z" fill="#97d7a9"/>
<path d="M543.00,240.90L466.14,257.83A78.70,78.70 0 0 1 465.02,251.50Z" fill="#95d6a7"/>
<path d="M543.00,240.90L465.13,252.32A78.70,78.70 0 0 1 464.46,245.92Z" fill="#92d5a6"/>
<path d="M543.00,240.90L464.52,246.75A78.70,78.70 0 0 1 464.30,240.32Z" fill="#90d4a4"/>
<path d="M543.00,240.90L464.30,241.15A78.70,78.70 0 0 1 464.54,234.73Z" fill="#8ed3a2"/>
<path d="M543.00,240.90L464.48,235.55A78.70,78.70 0 0 1 465.18,229.16Z" fill="#8dd3a1"/>
<path d="M543.00,240.90L465.06,229.97A78.70,78.70 0 0 1 466.21,223.65Z" fill="#8cd2a0"/>
<path d="M543.00,240.90L466.04,224.46A78.70,78.70 0 0 1 467.64,218.23Z" fill="#8cd2a0"/>
<path d="M543.00,240.90L467.40,219.02A78.70,78.70 0 0 1 469.44,212.93Z" fill="#8cd1a0"/>
<path d="M543.00,240.90L469.15,213.70A78.70,78.70 0 0 1 471.27,208.51Z" fill="#8bd09f"/>
<path d="M543.00,240.90L471.27,208.51A78.70,78.70 0 0 1 492.62,180.44Z" fill="#f8a131" stroke="#f8a131" stroke-width="0.4"/>
<path d="M543.00,240.90L471.27,208.51A78.70,78.70 0 0 1 474.31,202.49Z" fill="#f8a436"/>
<path d="M543.00,240.90L473.91,203.21A78.70,78.70 0 0 1 477.40,197.42Z" fill="#f8a234"/>
<path d="M543.00,240.90L476.95,198.11A78.70,78.70 0 0 1 480.86,192.61Z" fill="#f8a232"/>
<path d="M543.00,240.90L480.35,193.26A78.70,78.70 0 0 1 484.67,188.07Z" fill="#f8a131"/>
<path d="M543.00,240.90L484.12,188.68A78.70,78.70 0 0 1 488.81,183.83Z" fill="#f8a031"/>
<path d="M543.00,240.90L488.22,184.40A78.70,78.70 0 0 1 492.62,180.44Z" fill="#f7a031"/>
<path d="M543.00,240.90L492.62,180.44A78.70,78.70 0 0 1 543.00,162.20Z" fill="#ee5f5b" stroke="#ee5f5b" stroke-width="0.4"/>
<path d="M543.00,240.90L492.62,180.44A78.70,78.70 0 0 1 498.11,176.26Z" fill="#ef635f"/>
<path d="M543.00,240.90L497.44,176.73A78.70,78.70 0 0 1 503.23,172.99Z" fill="#ef625e"/>
<path d="M543.00,240.90L502.52,173.41A78.70,78.70 0 0 1 508.58,170.12Z" fill="#ee615d"/>
<path d="M543.00,240.90L507.84,170.49A78.70,78.70 0 0 1 514.14,167.68Z" fill="#ee605c"/>
<path d="M543.00,240.90L513.38,167.99A78.70,78.70 0 0 1 519.87,165.67Z" fill="#ee5f5b"/>
<path d="M543.00,240.90L519.09,165.92A78.70,78.70 0 0 1 525.74,164.12Z" fill="#ee5f5b"/>
<path d="M543.00,240.90L524.94,164.30A78.70,78.70 0 0 1 531.71,163.01Z" fill="#ee5f5b"/>
<path d="M543.00,240.90L530.90,163.14A78.70,78.70 0 0 1 537.75,162.38Z" fill="#ed5f5b"/>
<path d="M543.00,240.90L536.93,162.43A78.70,78.70 0 0 1 543.00,162.20Z" fill="#ed5f5b"/>
<circle cx="542.9" cy="242.2" r="41.3" fill="#10281a" opacity="0.45" filter="url(#sh)"/>
<circle cx="542.9" cy="241.5" r="41.3" fill="#3a424b"/>
<text x="170.41" y="189.62" font-size="9" fill="#fff" font-weight="bold" textLength="16.6" lengthAdjust="spacingAndGlyphs">10%</text>
<text x="211.00" y="241.62" font-size="9" fill="#fff" font-weight="bold" textLength="17.6" lengthAdjust="spacingAndGlyphs">27%</text>
<text x="162.36" y="305.62" font-size="9" fill="#fff" font-weight="bold" textLength="18.3" lengthAdjust="spacingAndGlyphs">20%</text>
<text x="104.83" y="285.22" font-size="9" fill="#fff" font-weight="bold" textLength="16.7" lengthAdjust="spacingAndGlyphs">14%</text>
<text x="93.05" y="249.02" font-size="9" fill="#fff" font-weight="bold" textLength="12.5" lengthAdjust="spacingAndGlyphs">7%</text>
<text x="98.05" y="223.62" font-size="9" fill="#fff" font-weight="bold" textLength="12.5" lengthAdjust="spacingAndGlyphs">7%</text>
<text x="124.41" y="193.22" font-size="9" fill="#fff" font-weight="bold" textLength="16.0" lengthAdjust="spacingAndGlyphs">15%</text>
<text x="366.05" y="190.42" font-size="9" fill="#fff" font-weight="bold" textLength="15.9" lengthAdjust="spacingAndGlyphs">13%</text>
<text x="401.45" y="251.42" font-size="9" fill="#fff" font-weight="bold" textLength="18.1" lengthAdjust="spacingAndGlyphs">28%</text>
<text x="347.68" y="303.72" font-size="9" fill="#fff" font-weight="bold" textLength="16.2" lengthAdjust="spacingAndGlyphs">16%</text>
<text x="297.51" y="281.82" font-size="9" fill="#fff" font-weight="bold" textLength="16.0" lengthAdjust="spacingAndGlyphs">15%</text>
<text x="285.98" y="240.42" font-size="9" fill="#fff" font-weight="bold" textLength="12.8" lengthAdjust="spacingAndGlyphs">9%</text>
<text x="294.48" y="214.12" font-size="9" fill="#fff" font-weight="bold" textLength="12.8" lengthAdjust="spacingAndGlyphs">6%</text>
<text x="318.55" y="190.42" font-size="9" fill="#fff" font-weight="bold" textLength="15.9" lengthAdjust="spacingAndGlyphs">13%</text>
<text x="567.76" y="196.52" font-size="9" fill="#fff" font-weight="bold" textLength="18.3" lengthAdjust="spacingAndGlyphs">20%</text>
<text x="586.20" y="272.22" font-size="9" fill="#fff" font-weight="bold" textLength="17.6" lengthAdjust="spacingAndGlyphs">27%</text>
<text x="504.76" y="296.32" font-size="9" fill="#fff" font-weight="bold" textLength="17.7" lengthAdjust="spacingAndGlyphs">25%</text>
<text x="476.30" y="239.52" font-size="9" fill="#fff" font-weight="bold" textLength="14.2" lengthAdjust="spacingAndGlyphs">11%</text>
<text x="489.85" y="208.02" font-size="9" fill="#fff" font-weight="bold" textLength="12.5" lengthAdjust="spacingAndGlyphs">7%</text>
<text x="515.40" y="188.42" font-size="9" fill="#fff" font-weight="bold" textLength="14.2" lengthAdjust="spacingAndGlyphs">11%</text>
<text x="141.7" y="229.3" font-size="15" fill="#fff" font-weight="bold" font-style="normal" textLength="36.5" lengthAdjust="spacingAndGlyphs" >2023</text>
<text x="141.1" y="244.7" font-size="12.3" fill="#fff" font-weight="normal" font-style="normal" textLength="37.7" lengthAdjust="spacingAndGlyphs" stroke="#fff" stroke-width="0.3">10,200</text>
<text x="141.29999999999998" y="257.7" font-size="12.3" fill="#fff" font-weight="normal" font-style="normal" textLength="37.5" lengthAdjust="spacingAndGlyphs" stroke="#fff" stroke-width="0.3">kWpm</text>
<text x="143.29999999999998" y="271" font-size="12.3" fill="#fff" font-weight="normal" font-style="normal" textLength="32.3" lengthAdjust="spacingAndGlyphs" stroke="#fff" stroke-width="0.3">12"eq.</text>
<text x="524.6" y="226.5" font-size="15" fill="#fff" font-weight="bold" font-style="normal" textLength="37.4" lengthAdjust="spacingAndGlyphs" >2023</text>
<text x="524.0" y="241.8" font-size="12.3" fill="#fff" font-weight="normal" font-style="normal" textLength="38.6" lengthAdjust="spacingAndGlyphs" stroke="#fff" stroke-width="0.3">10,200</text>
<text x="524.2" y="254.9" font-size="12.3" fill="#fff" font-weight="normal" font-style="normal" textLength="38.4" lengthAdjust="spacingAndGlyphs" stroke="#fff" stroke-width="0.3">kWpm</text>
<text x="526.2" y="268" font-size="12.3" fill="#fff" font-weight="normal" font-style="normal" textLength="33.2" lengthAdjust="spacingAndGlyphs" stroke="#fff" stroke-width="0.3">12"eq.</text>
<text x="334.6" y="239.9" font-size="15" fill="#fff" font-weight="bold" font-style="normal" textLength="36.8" lengthAdjust="spacingAndGlyphs" >2023</text>
<text x="335.2" y="254.8" font-size="12" fill="#fff" font-weight="normal" font-style="normal" textLength="35.6" lengthAdjust="spacingAndGlyphs" stroke="#fff" stroke-width="0.35">$330B</text>
<rect x="218.5" y="343.5" width="11.6" height="12" fill="#4a73c8"/>
<rect x="253.7" y="343.5" width="11.6" height="12" fill="#2d8e4e"/>
<rect x="288.8" y="343.5" width="11.6" height="12" fill="#3faf5f"/>
<rect x="324.8" y="343.5" width="11.6" height="12" fill="#8dd3a1"/>
<rect x="366.2" y="343.5" width="11.6" height="12" fill="#f8a131"/>
<rect x="406.9" y="343.5" width="11.6" height="12" fill="#ee5f5b"/>
<rect x="446.1" y="343.5" width="11.6" height="12" fill="#b3164f"/>
<text x="235.3" y="352.5" font-size="8.3" fill="#1f2a5a" font-weight="bold" font-style="normal" textLength="10.1" lengthAdjust="spacingAndGlyphs" >US</text>
<text x="270.4" y="352.5" font-size="8.3" fill="#1f2a5a" font-weight="bold" font-style="normal" textLength="11.7" lengthAdjust="spacingAndGlyphs" >TW</text>
<text x="305.8" y="352.5" font-size="8.3" fill="#1f2a5a" font-weight="bold" font-style="normal" textLength="9.9" lengthAdjust="spacingAndGlyphs" >KR</text>
<text x="341" y="352.5" font-size="8.3" fill="#1f2a5a" font-weight="bold" font-style="normal" textLength="9.4" lengthAdjust="spacingAndGlyphs" >JP</text>
<text x="383" y="352.5" font-size="8.3" fill="#1f2a5a" font-weight="bold" font-style="normal" textLength="10.0" lengthAdjust="spacingAndGlyphs" >EU</text>
<text x="423.3" y="352.5" font-size="8.3" fill="#1f2a5a" font-weight="bold" font-style="normal" textLength="11.2" lengthAdjust="spacingAndGlyphs" >CN</text>
<text x="463.1" y="352.5" font-size="8.3" fill="#1f2a5a" font-weight="bold" font-style="normal" textLength="28.9" lengthAdjust="spacingAndGlyphs" >Other**</text>
<text x="103.8" y="373.2" font-size="8.5" fill="#333" font-weight="normal" font-style="italic" textLength="189.3" lengthAdjust="spacingAndGlyphs" >*foundry location ** foundry player headquarters</text>
<text x="483.4" y="411.1" font-size="8" fill="#9b9b9b" font-weight="normal" font-style="normal" textLength="173.2" lengthAdjust="spacingAndGlyphs" >www.yolegroup.com | ©Yole Intelligence 2024</text>
<g transform="translate(58.4,406.0) scale(1,0.87)">
<path d="M-5.35,8.57A10.1,10.1 0 0 1 -9.76,-2.61" fill="none" stroke="#8ea4c6" stroke-width="1.0" stroke-linecap="round" opacity="1"/>
<path d="M-9.76,-2.61A10.1,10.1 0 0 1 -4.27,-9.15" fill="none" stroke="#4f6a9c" stroke-width="1.0" stroke-linecap="round" opacity="1"/>
<path d="M-4.27,-9.15A10.1,10.1 0 0 1 4.74,-8.92" fill="none" stroke="#27315c" stroke-width="1.0" stroke-linecap="round" opacity="1"/>
<path d="M7.51,-6.76A10.1,10.1 0 0 1 10.06,0.88" fill="none" stroke="#8ea4c6" stroke-width="1.0" stroke-linecap="round" opacity="1"/>
<path d="M10.06,0.88A10.1,10.1 0 0 1 5.05,8.75" fill="none" stroke="#27315c" stroke-width="1.0" stroke-linecap="round" opacity="1"/>
<path d="M-4.29,6.87A8.1,8.1 0 0 1 -7.82,-2.10" fill="none" stroke="#8ea4c6" stroke-width="1.0" stroke-linecap="round" opacity="1"/>
<path d="M-7.82,-2.10A8.1,8.1 0 0 1 -3.42,-7.34" fill="none" stroke="#4f6a9c" stroke-width="1.0" stroke-linecap="round" opacity="1"/>
<path d="M-3.42,-7.34A8.1,8.1 0 0 1 1.68,-7.92" fill="none" stroke="#27315c" stroke-width="1.0" stroke-linecap="round" opacity="1"/>
<path d="M4.99,-6.38A8.1,8.1 0 0 1 8.07,0.71" fill="none" stroke="#8ea4c6" stroke-width="1.0" stroke-linecap="round" opacity="1"/>
<path d="M8.07,0.71A8.1,8.1 0 0 1 3.03,7.51" fill="none" stroke="#27315c" stroke-width="1.0" stroke-linecap="round" opacity="1"/>
<path d="M-3.23,5.17A6.1,6.1 0 0 1 -5.89,-1.58" fill="none" stroke="#8ea4c6" stroke-width="1.0" stroke-linecap="round" opacity="1"/>
<path d="M-5.89,-1.58A6.1,6.1 0 0 1 -2.58,-5.53" fill="none" stroke="#4f6a9c" stroke-width="1.0" stroke-linecap="round" opacity="1"/>
<path d="M-2.58,-5.53A6.1,6.1 0 0 1 1.27,-5.97" fill="none" stroke="#27315c" stroke-width="1.0" stroke-linecap="round" opacity="1"/>
<path d="M3.76,-4.81A6.1,6.1 0 0 1 6.08,0.53" fill="none" stroke="#8ea4c6" stroke-width="1.0" stroke-linecap="round" opacity="1"/>
<path d="M6.08,0.53A6.1,6.1 0 0 1 2.29,5.66" fill="none" stroke="#27315c" stroke-width="1.0" stroke-linecap="round" opacity="1"/>
<g transform="translate(-0.2,1.6)"><path d="M0.57,3.25A3.3,3.3 0 1 1 1.13,-3.10" fill="none" stroke="#27315c" stroke-width="1.0" stroke-linecap="round" opacity="1"/><path d="M1.13,-3.10A3.3,3.3 0 0 1 0.57,3.25" fill="none" stroke="#8ea4c6" stroke-width="1.0" stroke-linecap="round" opacity="1"/></g>
</g>
<text x="71.6" y="409.7" font-size="12.2" fill="#222a52" font-weight="bold" font-style="normal" textLength="34.1" lengthAdjust="spacingAndGlyphs" >YOLE</text>
<text x="74.6" y="413.4" font-size="2.6" fill="#6f9fd0" font-weight="normal" font-style="normal" textLength="26.3" lengthAdjust="spacingAndGlyphs" >Intelligence</text>
</svg>
</body></html>
